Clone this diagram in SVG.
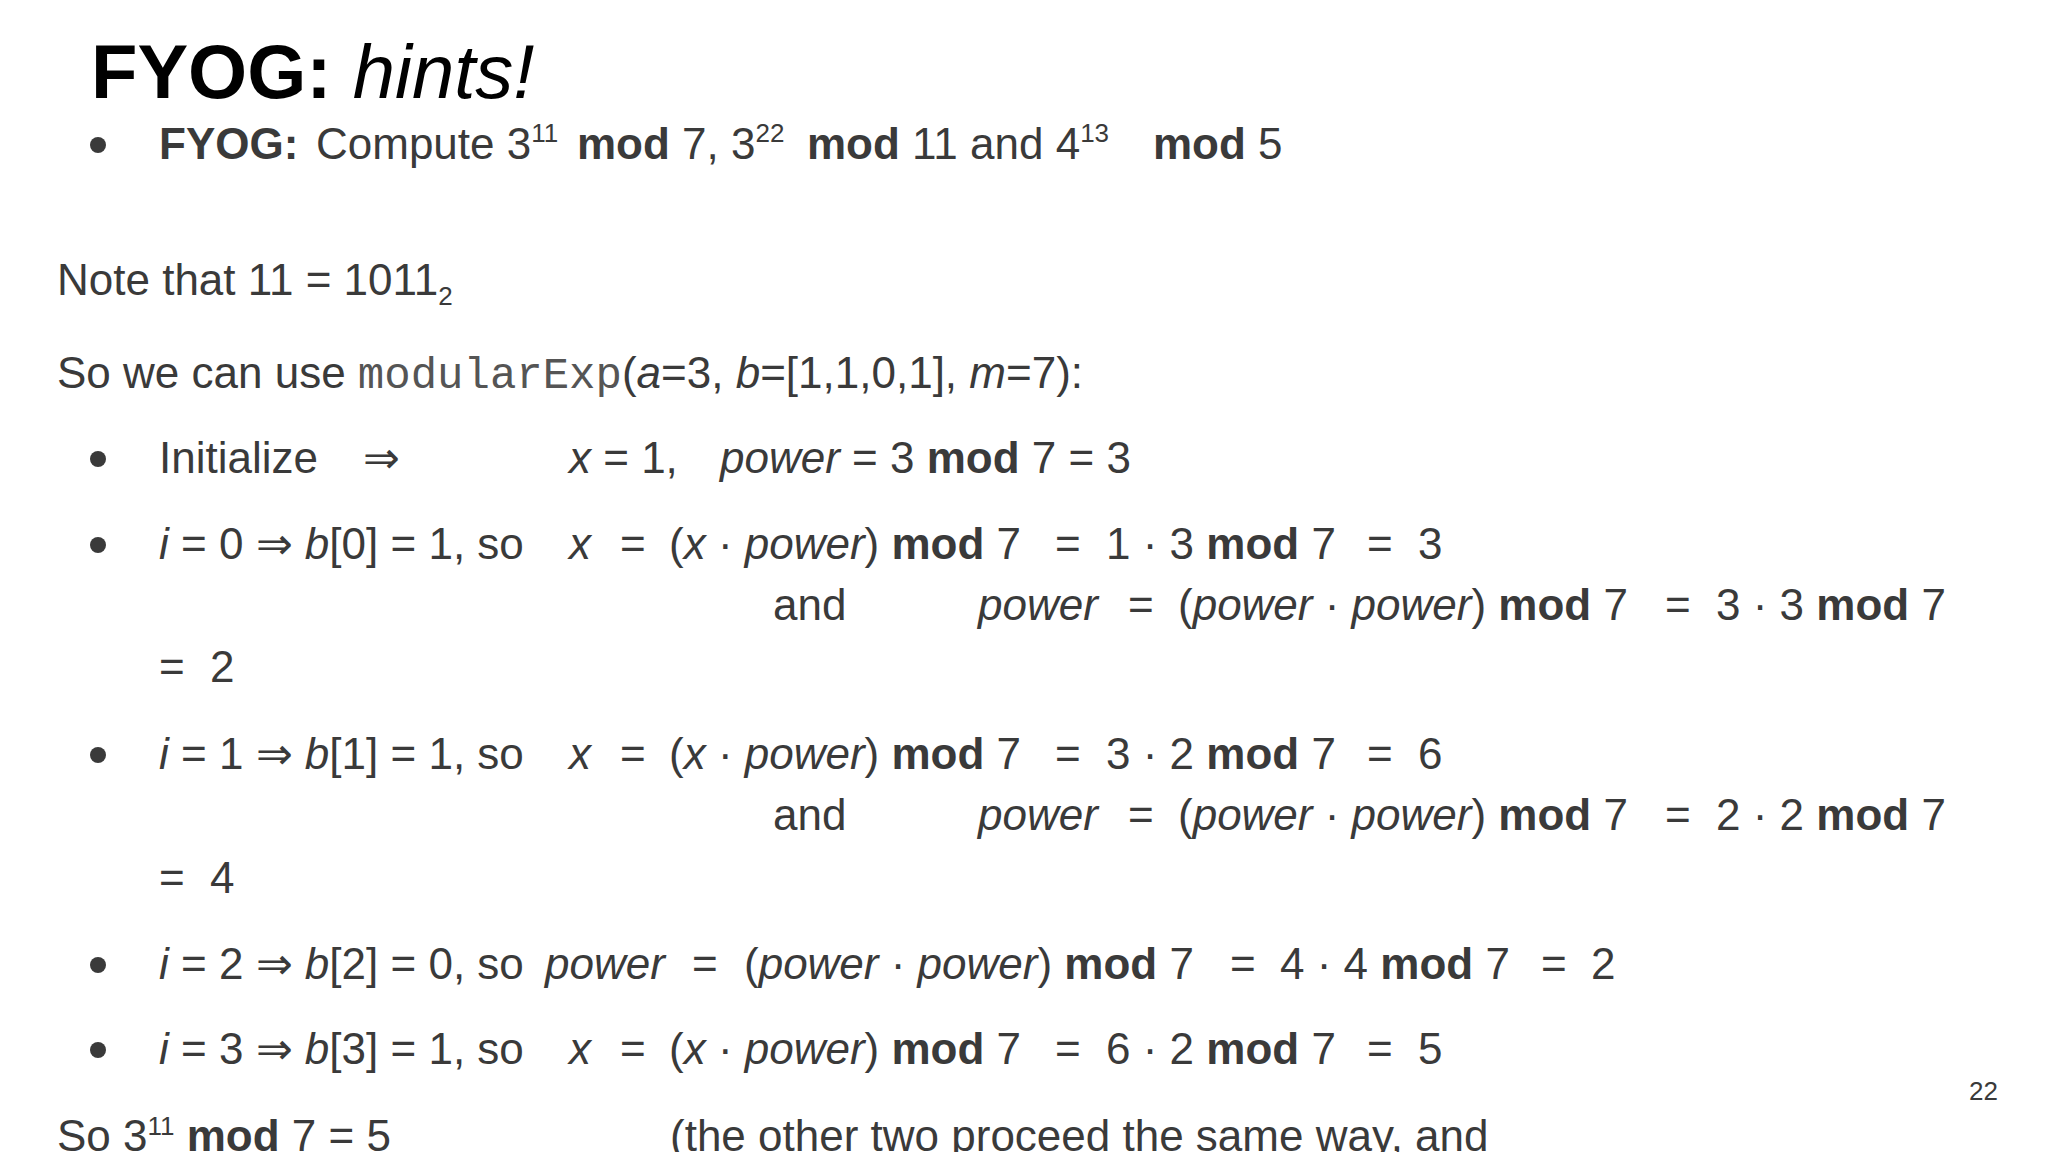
<svg xmlns="http://www.w3.org/2000/svg" width="2048" height="1152" viewBox="0 0 2048 1152">
<style>
text{font-family:"Liberation Sans",Arial,sans-serif;font-size:44px;fill:#3a3a3a}
.t{font-size:76px;fill:#000}
.b{font-weight:bold}
.i{font-style:italic}
.m{font-family:"Liberation Mono","Courier New",monospace;fill:#555}
.s{font-size:26px}
</style>
<rect width="2048" height="1152" fill="#fff"/>
<g id="title"><text class="t" x="91" y="98"><tspan class="b">FYOG:</tspan> <tspan class="i">hints!</tspan></text></g>
<g id="bullets" fill="#3a3a3a">
<circle cx="98" cy="145" r="8"/><circle cx="98" cy="459" r="8"/><circle cx="98" cy="545" r="8"/>
<circle cx="98" cy="755" r="8"/><circle cx="98" cy="965" r="8"/><circle cx="98" cy="1050" r="8"/>
</g>
<g id="text">
<text y="159"><tspan x="159" class="b">FYOG:</tspan><tspan x="316">Compute 3</tspan><tspan class="s" dy="-17">11</tspan><tspan x="577" dy="17" class="b">mod</tspan><tspan> 7, 3</tspan><tspan class="s" dy="-17">22</tspan><tspan x="807" dy="17" class="b">mod</tspan><tspan> 11 and 4</tspan><tspan class="s" dy="-17">13</tspan><tspan x="1153" dy="17" class="b">mod</tspan><tspan> 5</tspan></text>
<text x="57" y="295">Note that 11 = 1011<tspan class="s" dy="10">2</tspan></text>
<text x="57" y="388">So we can use <tspan class="m">modularExp</tspan>(<tspan class="i">a</tspan>=3, <tspan class="i">b</tspan>=[1,1,0,1], <tspan class="i">m</tspan>=7):</text>
<text y="473"><tspan x="159">Initialize</tspan><tspan x="363">⇒</tspan><tspan x="569"><tspan class="i">x</tspan> = 1,</tspan><tspan x="720"><tspan class="i">power</tspan> = 3 <tspan class="b">mod</tspan> 7 = 3</tspan></text>
<text y="559"><tspan x="159"><tspan class="i">i</tspan> = 0 ⇒ <tspan class="i">b</tspan>[0] = 1, so</tspan><tspan x="569" class="i">x</tspan><tspan x="620">=</tspan><tspan x="669">(<tspan class="i">x</tspan> · <tspan class="i">power</tspan>) <tspan class="b">mod</tspan> 7</tspan><tspan x="1055">=</tspan><tspan x="1106">1 · 3 <tspan class="b">mod</tspan> 7</tspan><tspan x="1367">=</tspan><tspan x="1418">3</tspan></text>
<text y="620"><tspan x="773">and</tspan><tspan x="978" class="i">power</tspan><tspan x="1128">=</tspan><tspan x="1178">(<tspan class="i">power</tspan> · <tspan class="i">power</tspan>) <tspan class="b">mod</tspan> 7</tspan><tspan x="1665">=</tspan><tspan x="1716">3 · 3 <tspan class="b">mod</tspan> 7</tspan></text>
<text y="682"><tspan x="159">=</tspan><tspan x="210">2</tspan></text>
<text y="769"><tspan x="159"><tspan class="i">i</tspan> = 1 ⇒ <tspan class="i">b</tspan>[1] = 1, so</tspan><tspan x="569" class="i">x</tspan><tspan x="620">=</tspan><tspan x="669">(<tspan class="i">x</tspan> · <tspan class="i">power</tspan>) <tspan class="b">mod</tspan> 7</tspan><tspan x="1055">=</tspan><tspan x="1106">3 · 2 <tspan class="b">mod</tspan> 7</tspan><tspan x="1367">=</tspan><tspan x="1418">6</tspan></text>
<text y="830"><tspan x="773">and</tspan><tspan x="978" class="i">power</tspan><tspan x="1128">=</tspan><tspan x="1178">(<tspan class="i">power</tspan> · <tspan class="i">power</tspan>) <tspan class="b">mod</tspan> 7</tspan><tspan x="1665">=</tspan><tspan x="1716">2 · 2 <tspan class="b">mod</tspan> 7</tspan></text>
<text y="893"><tspan x="159">=</tspan><tspan x="210">4</tspan></text>
<text y="979"><tspan x="159"><tspan class="i">i</tspan> = 2 ⇒ <tspan class="i">b</tspan>[2] = 0, so </tspan><tspan x="545" class="i">power</tspan><tspan x="692">=</tspan><tspan x="744">(<tspan class="i">power</tspan> · <tspan class="i">power</tspan>) <tspan class="b">mod</tspan> 7</tspan><tspan x="1230">=</tspan><tspan x="1280">4 · 4 <tspan class="b">mod</tspan> 7</tspan><tspan x="1541">=</tspan><tspan x="1591">2</tspan></text>
<text y="1064"><tspan x="159"><tspan class="i">i</tspan> = 3 ⇒ <tspan class="i">b</tspan>[3] = 1, so</tspan><tspan x="569" class="i">x</tspan><tspan x="620">=</tspan><tspan x="669">(<tspan class="i">x</tspan> · <tspan class="i">power</tspan>) <tspan class="b">mod</tspan> 7</tspan><tspan x="1055">=</tspan><tspan x="1106">6 · 2 <tspan class="b">mod</tspan> 7</tspan><tspan x="1367">=</tspan><tspan x="1418">5</tspan></text>
<text y="1151"><tspan x="57">So 3<tspan class="s" dy="-16">11</tspan><tspan dy="16"> </tspan><tspan class="b">mod</tspan> 7 = 5</tspan><tspan x="670">(the other two proceed the same way, and</tspan></text>
<text x="1998" y="1100" text-anchor="end" style="font-size:26px">22</text>
</g>
</svg>
